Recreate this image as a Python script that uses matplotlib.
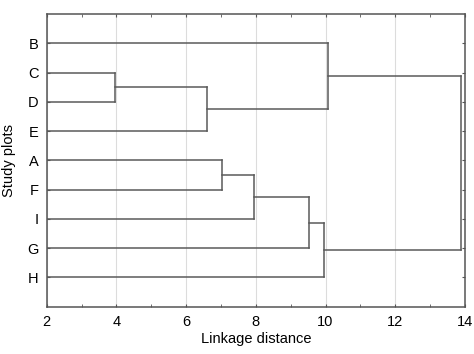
import matplotlib
matplotlib.use("Agg")
import matplotlib.pyplot as plt

plt.rcParams['font.family'] = ['Liberation Sans', 'DejaVu Sans']

# leaf order from top to bottom
labels = ["B", "C", "D", "E", "A", "F", "I", "G", "H"]

# merges: (left cluster, right cluster, linkage distance)
# leaves are 0..8, new clusters are numbered 9, 10, ...
merges = [
    (1, 2, 3.96),    # C + D
    (9, 3, 6.61),    # CD + E
    (0, 10, 10.07),  # B + CDE
    (4, 5, 7.03),    # A + F
    (12, 6, 7.94),   # AF + I
    (13, 7, 9.52),   # AFI + G
    (14, 8, 9.96),   # AFIG + H
    (11, 15, 13.88), # all
]

x_min = 2
line_col = "#5a5a5a"

fig = plt.figure(figsize=(4.74, 3.54), dpi=100)
ax = fig.add_axes([0.0985, 0.1336, 0.8825, 0.8269])

# position / height of every node
pos = {i: i + 1 for i in range(len(labels))}
hgt = {i: x_min for i in range(len(labels))}
for k, (a, b, d) in enumerate(merges):
    node = len(labels) + k
    ax.plot([hgt[a], d], [pos[a], pos[a]], color=line_col, lw=1.1)
    ax.plot([hgt[b], d], [pos[b], pos[b]], color=line_col, lw=1.1)
    ax.plot([d, d], [pos[a], pos[b]], color=line_col, lw=1.1)
    pos[node] = (pos[a] + pos[b]) / 2
    hgt[node] = d

ax.set_xlim(2, 14)
ax.set_ylim(10, 0)
ax.set_xticks(range(2, 15, 2))
ax.set_xticks(range(3, 14, 2), minor=True)
ax.set_yticks(range(1, len(labels) + 1))
ax.set_yticklabels(labels)
ax.grid(axis="x", which="major", color="#dcdcdc", lw=0.8)
ax.set_axisbelow(True)

ax.tick_params(which="both", direction="in", top=True, right=True,
               length=2.5, color="#555555", labelsize=10.5, pad=6)
for s in ax.spines.values():
    s.set_color("#555555")
    s.set_linewidth(1.1)

ax.set_xlabel("Linkage distance", fontsize=10.5, labelpad=2)
ax.set_ylabel("Study plots", fontsize=10.5, labelpad=8)

fig.savefig("out.png", dpi=100)
